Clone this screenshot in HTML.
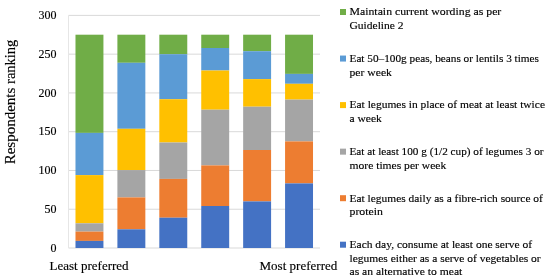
<!DOCTYPE html>
<html><head><meta charset="utf-8"><style>html,body{margin:0;padding:0;background:#fff;width:550px;height:280px;overflow:hidden}svg{display:block}</style></head>
<body><svg width="550" height="280" viewBox="0 0 550 280">
<style>
text{font-family:"Liberation Serif",serif;fill:#000;stroke:#000;stroke-width:0.15px}
.txt{filter:grayscale(1)}
.t{font-size:12px}
.lg{font-size:11.4px}
.ax{font-size:13px}
.yt{font-size:14px}
</style>
<rect width="550" height="280" fill="#fff"/>
<line x1="68.5" y1="248.00" x2="320.0" y2="248.00" stroke="#D9D9D9" stroke-width="1"/><line x1="68.5" y1="209.23" x2="320.0" y2="209.23" stroke="#D9D9D9" stroke-width="1"/><line x1="68.5" y1="170.47" x2="320.0" y2="170.47" stroke="#D9D9D9" stroke-width="1"/><line x1="68.5" y1="131.70" x2="320.0" y2="131.70" stroke="#D9D9D9" stroke-width="1"/><line x1="68.5" y1="92.93" x2="320.0" y2="92.93" stroke="#D9D9D9" stroke-width="1"/><line x1="68.5" y1="54.17" x2="320.0" y2="54.17" stroke="#D9D9D9" stroke-width="1"/><line x1="68.5" y1="15.40" x2="320.0" y2="15.40" stroke="#D9D9D9" stroke-width="1"/>
<line x1="68.5" y1="15.4" x2="68.5" y2="248" stroke="#E6E6E6" stroke-width="1"/>
<rect x="75.49" y="34.70" width="27.94" height="98.20" fill="#70AD47"/><rect x="75.49" y="132.90" width="27.94" height="42.20" fill="#5B9BD5"/><rect x="75.49" y="175.10" width="27.94" height="48.20" fill="#FFC000"/><rect x="75.49" y="223.30" width="27.94" height="8.30" fill="#A5A5A5"/><rect x="75.49" y="231.60" width="27.94" height="9.30" fill="#ED7D31"/><rect x="75.49" y="240.90" width="27.94" height="7.10" fill="#4472C4"/><rect x="117.40" y="34.70" width="27.94" height="28.10" fill="#70AD47"/><rect x="117.40" y="62.80" width="27.94" height="66.00" fill="#5B9BD5"/><rect x="117.40" y="128.80" width="27.94" height="41.30" fill="#FFC000"/><rect x="117.40" y="170.10" width="27.94" height="27.30" fill="#A5A5A5"/><rect x="117.40" y="197.40" width="27.94" height="31.90" fill="#ED7D31"/><rect x="117.40" y="229.30" width="27.94" height="18.70" fill="#4472C4"/><rect x="159.32" y="34.70" width="27.94" height="19.50" fill="#70AD47"/><rect x="159.32" y="54.20" width="27.94" height="45.00" fill="#5B9BD5"/><rect x="159.32" y="99.20" width="27.94" height="43.30" fill="#FFC000"/><rect x="159.32" y="142.50" width="27.94" height="36.40" fill="#A5A5A5"/><rect x="159.32" y="178.90" width="27.94" height="38.80" fill="#ED7D31"/><rect x="159.32" y="217.70" width="27.94" height="30.30" fill="#4472C4"/><rect x="201.24" y="34.70" width="27.94" height="13.30" fill="#70AD47"/><rect x="201.24" y="48.00" width="27.94" height="22.50" fill="#5B9BD5"/><rect x="201.24" y="70.50" width="27.94" height="39.20" fill="#FFC000"/><rect x="201.24" y="109.70" width="27.94" height="55.70" fill="#A5A5A5"/><rect x="201.24" y="165.40" width="27.94" height="40.60" fill="#ED7D31"/><rect x="201.24" y="206.00" width="27.94" height="42.00" fill="#4472C4"/><rect x="243.15" y="34.70" width="27.94" height="16.50" fill="#70AD47"/><rect x="243.15" y="51.20" width="27.94" height="27.90" fill="#5B9BD5"/><rect x="243.15" y="79.10" width="27.94" height="27.60" fill="#FFC000"/><rect x="243.15" y="106.70" width="27.94" height="43.30" fill="#A5A5A5"/><rect x="243.15" y="150.00" width="27.94" height="51.40" fill="#ED7D31"/><rect x="243.15" y="201.40" width="27.94" height="46.60" fill="#4472C4"/><rect x="285.07" y="34.70" width="27.94" height="39.20" fill="#70AD47"/><rect x="285.07" y="73.90" width="27.94" height="9.90" fill="#5B9BD5"/><rect x="285.07" y="83.80" width="27.94" height="15.80" fill="#FFC000"/><rect x="285.07" y="99.60" width="27.94" height="41.80" fill="#A5A5A5"/><rect x="285.07" y="141.40" width="27.94" height="42.00" fill="#ED7D31"/><rect x="285.07" y="183.40" width="27.94" height="64.60" fill="#4472C4"/>
<rect x="340" y="9.00" width="6" height="6" fill="#70AD47"/><rect x="340" y="55.55" width="6" height="6" fill="#5B9BD5"/><rect x="340" y="102.10" width="6" height="6" fill="#FFC000"/><rect x="340" y="148.65" width="6" height="6" fill="#A5A5A5"/><rect x="340" y="195.20" width="6" height="6" fill="#ED7D31"/><rect x="340" y="241.70" width="6" height="6" fill="#4472C4"/>
<g class="txt">
<text x="56.6" y="251.60" text-anchor="end" class="t">0</text><text x="56.6" y="212.83" text-anchor="end" class="t">50</text><text x="56.6" y="174.07" text-anchor="end" class="t">100</text><text x="56.6" y="135.30" text-anchor="end" class="t">150</text><text x="56.6" y="96.53" text-anchor="end" class="t">200</text><text x="56.6" y="57.77" text-anchor="end" class="t">250</text><text x="56.6" y="19.00" text-anchor="end" class="t">300</text>
<text x="49.6" y="269.6" class="ax" textLength="79" lengthAdjust="spacingAndGlyphs">Least preferred</text>
<text x="259.5" y="269.6" class="ax" textLength="77.8" lengthAdjust="spacingAndGlyphs">Most preferred</text>
<text transform="translate(14.7,164.3) rotate(-90)" x="0" y="0" class="yt" textLength="76.6" lengthAdjust="spacingAndGlyphs">Respondents</text><text transform="translate(14.7,83.9) rotate(-90)" x="0" y="0" class="yt" textLength="44" lengthAdjust="spacingAndGlyphs">ranking</text>
<text x="349.5" y="15.30" class="lg" textLength="151.8" lengthAdjust="spacingAndGlyphs">Maintain current wording as per</text><text x="349.5" y="29.00" class="lg" textLength="54.1" lengthAdjust="spacingAndGlyphs">Guideline 2</text><text x="349.5" y="61.85" class="lg" textLength="189.5" lengthAdjust="spacingAndGlyphs">Eat 50–100g peas, beans or lentils 3 times</text><text x="349.5" y="75.55" class="lg" textLength="42.4" lengthAdjust="spacingAndGlyphs">per week</text><text x="349.5" y="108.40" class="lg" textLength="195.5" lengthAdjust="spacingAndGlyphs">Eat legumes in place of meat at least twice</text><text x="349.5" y="122.10" class="lg" textLength="32.4" lengthAdjust="spacingAndGlyphs">a week</text><text x="349.5" y="154.95" class="lg" textLength="194" lengthAdjust="spacingAndGlyphs">Eat at least 100 g (1/2 cup) of legumes 3 or</text><text x="349.5" y="168.65" class="lg" textLength="96.7" lengthAdjust="spacingAndGlyphs">more times per week</text><text x="349.5" y="201.50" class="lg" textLength="193.4" lengthAdjust="spacingAndGlyphs">Eat legumes daily as a fibre-rich source of</text><text x="349.5" y="215.20" class="lg" textLength="33.4" lengthAdjust="spacingAndGlyphs">protein</text><text x="349.5" y="248.00" class="lg" textLength="182.6" lengthAdjust="spacingAndGlyphs">Each day, consume at least one serve of</text><text x="349.5" y="261.70" class="lg" textLength="191.2" lengthAdjust="spacingAndGlyphs">legumes either as a serve of vegetables or</text><text x="349.5" y="275.40" class="lg" textLength="112.8" lengthAdjust="spacingAndGlyphs">as an alternative to meat</text>
</g>
</svg></body></html>
